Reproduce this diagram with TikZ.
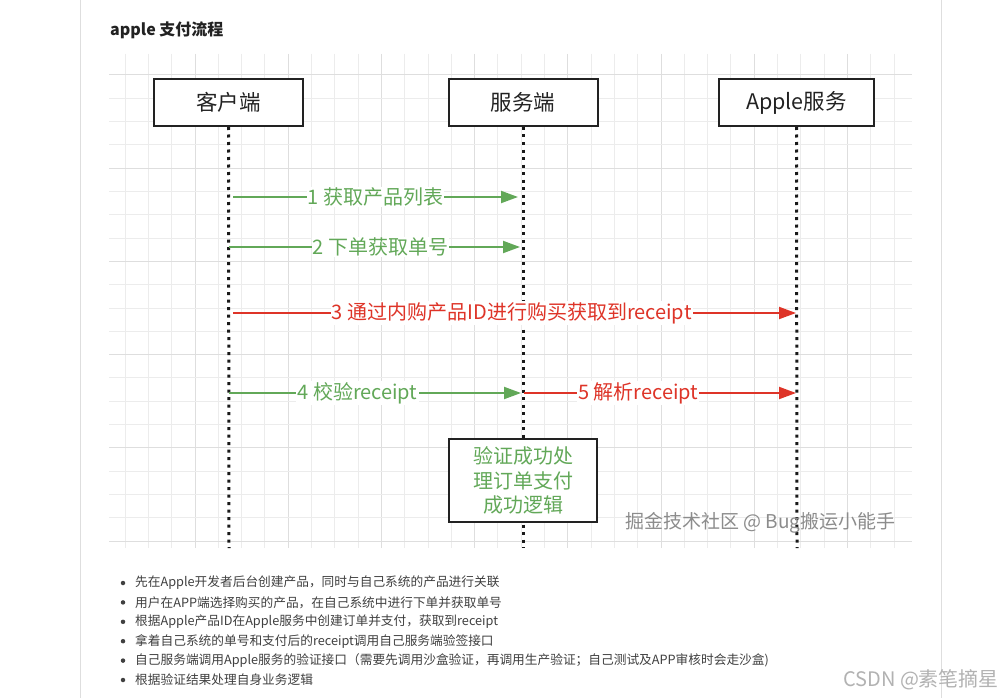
\documentclass[tikz,border=0pt]{standalone}
\usepackage{fontspec}
\setmainfont{Noto Sans CJK SC}
\usetikzlibrary{arrows.meta}

\definecolor{flowgreen}{RGB}{98,168,88}
\definecolor{flowred}{RGB}{222,52,40}
\definecolor{gridminor}{RGB}{236,236,236}
\definecolor{gridmajor}{RGB}{222,222,222}
\definecolor{pageline}{RGB}{222,222,222}
\definecolor{textdark}{RGB}{34,34,34}
\definecolor{listgray}{RGB}{64,64,64}

\begin{document}
\begin{tikzpicture}[x=1pt,y=-1pt,
  actorbox/.style={draw=textdark, line width=2pt, fill=white, minimum width=149pt,
    minimum height=47pt, inner sep=0pt, text=textdark, font=\fontsize{21.5}{24}\selectfont},
  lifeline/.style={line width=3pt, dash pattern=on 3pt off 4.5pt, draw=black!90},
  msg/.style={line width=2pt, -{Triangle[length=17pt,width=12pt]}},
  msglabel/.style={fill=white, inner sep=1pt, font=\fontsize{20}{22}\selectfont},
  bulletdot/.style={circle, fill=listgray, inner sep=0pt, minimum size=4.5pt},
  bullettext/.style={anchor=west, inner sep=0pt, text=listgray, font=\fontsize{12.7}{15}\selectfont}]
\useasboundingbox (0,0) rectangle (1006,698);
\fill[white] (0,0) rectangle (1006,698);

% page borders
\draw[pageline, line width=1pt] (80,0) -- (80,698);
\draw[pageline, line width=1pt] (941,0) -- (941,698);

% title
\node[anchor=west, inner sep=0pt, text=textdark, font=\fontsize{16}{18}\selectfont\bfseries] (title) at (110,30) {apple 支付流程};

% grid
\begin{scope}
\clip (109,54) rectangle (912,548);
\foreach \i in {-4,...,31} {
  \pgfmathtruncatemacro{\m}{mod(\i+40,4)}
  \ifnum\m=0
    \draw[gridmajor, line width=1pt] (195+\i*23.3,54) -- (195+\i*23.3,548);
  \else
    \draw[gridminor, line width=1pt] (195+\i*23.3,54) -- (195+\i*23.3,548);
  \fi
}
\foreach \j in {-1,...,21} {
  \pgfmathtruncatemacro{\m}{mod(\j+40,4)}
  \ifnum\m=0
    \draw[gridmajor, line width=1pt] (109,75+\j*23.3) -- (912,75+\j*23.3);
  \else
    \draw[gridminor, line width=1pt] (109,75+\j*23.3) -- (912,75+\j*23.3);
  \fi
}
\end{scope}

% participants
\node[actorbox] (client) at (228.5,102.5) {客户端};
\node[actorbox] (server) at (523,102.5) {服务端};
\node[actorbox, minimum width=155pt] (apple) at (796.5,102.5) {Apple服务};

% lifelines
\coordinate (clientend) at (229,548);
\coordinate (serverend) at (523,548);
\coordinate (appleend) at (797,548);
\draw[lifeline] (client.south) -- (clientend);
\draw[lifeline] (server.south) -- (serverend);
\draw[lifeline] (apple.south) -- (appleend);

% result box
\node[actorbox, minimum width=148pt, minimum height=83pt, text=flowgreen,
  align=center, font=\fontsize{20}{24.5}\selectfont] (done) at (523,480.5) {验证成功处\\理订单支付\\成功逻辑};

% messages
\coordinate (m1a) at (233,197);  \coordinate (m1b) at (518,197);
\coordinate (m2a) at (229,247);  \coordinate (m2b) at (520,247);
\coordinate (m3a) at (233,313);  \coordinate (m3b) at (796,313);
\coordinate (m4a) at (229,393);  \coordinate (m4b) at (521,393);
\coordinate (m5a) at (524,393);  \coordinate (m5b) at (796,393);

\draw[msg, flowgreen] (m1a) -- node[msglabel, text=flowgreen] (l1) {1 获取产品列表} (m1b);
\draw[msg, flowgreen] (m2a) -- node[msglabel, text=flowgreen, pos=0.52] (l2) {2 下单获取单号} (m2b);
\draw[msg, flowred] (m3a) -- node[msglabel, text=flowred, pos=0.495] (l3) {3 通过内购产品ID进行购买获取到receipt} (m3b);
\draw[msg, flowgreen] (m4a) -- node[msglabel, text=flowgreen, pos=0.44] (l4) {4 校验receipt} (m4b);
\draw[msg, flowred] (m5a) -- node[msglabel, text=flowred, pos=0.42] (l5) {5 解析receipt} (m5b);

% watermark
\node[anchor=west, inner sep=0pt, text=black!45, font=\fontsize{19}{21}\selectfont] (mark) at (625,523) {掘金技术社区 @ Bug搬运小能手};

% notes
\foreach \txt [count=\k from 0] in {
  {先在Apple开发者后台创建产品，同时与自己系统的产品进行关联},
  {用户在APP端选择购买的产品，在自己系统中进行下单并获取单号},
  {根据Apple产品ID在Apple服务中创建订单并支付，获取到receipt},
  {拿着自己系统的单号和支付后的receipt调用自己服务端验签接口},
  {自己服务端调用Apple服务的验证接口（需要先调用沙盒验证，再调用生产验证；自己测试及APP审核时会走沙盒)},
  {根据验证结果处理自身业务逻辑}} {
  \node[bulletdot] (dot\k) at (123,583+19.4*\k) {};
  \node[bullettext] (note\k) at (135,583+19.4*\k) {\txt};
}

\node[anchor=west, inner sep=0pt, text=black!30, font=\fontsize{20}{22}\selectfont] (csdn) at (843,680) {CSDN @素笔摘星};

\end{tikzpicture}
\end{document}
